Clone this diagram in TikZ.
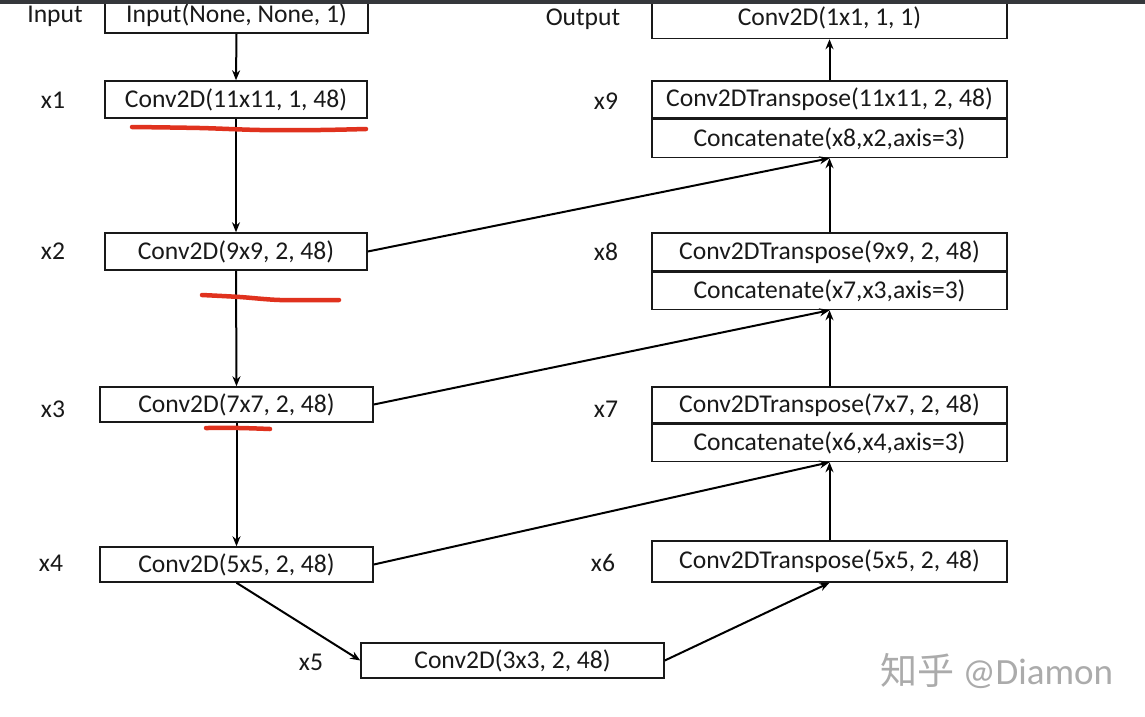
\documentclass[tikz,border=0pt]{standalone}
\usepackage{fontspec}
\setmainfont{Carlito}
\newfontfamily\cjk{Noto Sans CJK SC}
\usetikzlibrary{arrows.meta}
\definecolor{pen}{HTML}{E0321E}
\definecolor{wm}{HTML}{ABABAB}
\definecolor{bar}{HTML}{35373B}
\begin{document}
\begin{tikzpicture}[x=1pt,y=-1pt,
  lay/.style={draw=black!90, line width=1.5pt, inner sep=0pt, text=black!90,
    font=\fontsize{25.6}{30}\selectfont},
  lbl/.style={inner sep=0pt, text=black!90, font=\fontsize{25.6}{30}\selectfont},
  conn/.style={line width=2pt, -{Stealth[length=10pt,width=8pt]}},
  red/.style={draw=pen, line width=4.5pt, line cap=round}]
\useasboundingbox (0,0) rectangle (1145,716);
\fill[white] (0,0) rectangle (1145,716);
% left column
\node[lay, minimum width=263pt, minimum height=36pt] (in) at (236.5,15) {Input(None, None, 1)};
\node[lay, minimum width=262pt, minimum height=37pt] (x1) at (236,99.5) {Conv2D(11x11, 1, 48)};
\node[lay, minimum width=262pt, minimum height=37pt] (x2) at (236,251.5) {Conv2D(9x9, 2, 48)};
\node[lay, minimum width=273pt, minimum height=35pt] (x3) at (236.5,404.5) {Conv2D(7x7, 2, 48)};
\node[lay, minimum width=273pt, minimum height=35pt] (x4) at (236.5,564.5) {Conv2D(5x5, 2, 48)};
\node[lay, minimum width=303pt, minimum height=35pt] (x5) at (512.5,660.5) {Conv2D(3x3, 2, 48)};
% right column
\node[lay, minimum width=355pt, minimum height=41pt] (out) at (829.5,18) {Conv2D(1x1, 1, 1)};
\node[lay, minimum width=355pt, minimum height=37pt] (x9t) at (829.5,99.5) {Conv2DTranspose(11x11, 2, 48)};
\node[lay, minimum width=355pt, minimum height=38pt, anchor=north] (x9b) at (x9t.south) {Concatenate(x8,x2,axis=3)};
\node[lay, minimum width=355pt, minimum height=38pt] (x8t) at (829.5,252) {Conv2DTranspose(9x9, 2, 48)};
\node[lay, minimum width=355pt, minimum height=37pt, anchor=north] (x8b) at (x8t.south) {Concatenate(x7,x3,axis=3)};
\node[lay, minimum width=355pt, minimum height=36pt] (x7t) at (829.5,405) {Conv2DTranspose(7x7, 2, 48)};
\node[lay, minimum width=355pt, minimum height=37pt, anchor=north] (x7b) at (x7t.south) {Concatenate(x6,x4,axis=3)};
\node[lay, minimum width=355pt, minimum height=41pt] (x6) at (829.5,561.5) {Conv2DTranspose(5x5, 2, 48)};
% labels
\node[lbl] (lin) at (55,16) {Input};
\node[lbl] (l1) at (53,100) {x1};
\node[lbl] (l2) at (53,251) {x2};
\node[lbl] (l3) at (53,409) {x3};
\node[lbl] (l4) at (51,563) {x4};
\node[lbl] (l5) at (311,662) {x5};
\node[lbl] (lout) at (583,19) {Output};
\node[lbl] (l9) at (606,101) {x9};
\node[lbl] (l8) at (606,252) {x8};
\node[lbl] (l7) at (606,409) {x7};
\node[lbl] (l6) at (603,563) {x6};
% connectors
\draw[conn] (in.south) -- (x1.north);
\draw[conn] (x1.south) -- (x2.north);
\draw[conn] (x2.south) -- (x3.north);
\draw[conn] (x3.south) -- (x4.north);
\draw[conn] (x4.south) -- (x5.west);
\draw[conn] (x5.east) -- (x6.south);
\draw[conn] (x6.north) -- (x7b.south);
\draw[conn] (x7t.north) -- (x8b.south);
\draw[conn] (x8t.north) -- (x9b.south);
\draw[conn] (x9t.north) -- (out.south);
\draw[conn] (x4.east) -- (x7b.south);
\draw[conn] (x3.east) -- (x8b.south);
\draw[conn] (x2.east) -- (x9b.south);
% red pen marks
\draw[red] plot[smooth] coordinates {(132,127) (200,128) (260,130) (320,130) (366,129)};
\draw[red] plot[smooth] coordinates {(202,295) (240,297) (280,300) (339,300)};
\draw[red] plot[smooth] coordinates {(206,428) (240,428) (270,429)};
% top bar
\fill[bar] (0,0) rectangle (1145,4);
% watermark
\node[inner sep=0pt, text=wm, font=\fontsize{37}{40}\selectfont, anchor=west] (wmk) at (880,671) {{\cjk 知乎} @Diamon};
\end{tikzpicture}
\end{document}
